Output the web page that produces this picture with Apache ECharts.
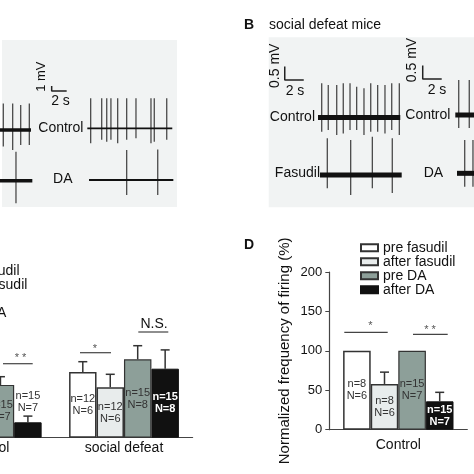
<!DOCTYPE html>
<html>
<head>
<meta charset="utf-8">
<script src="https://cdn.jsdelivr.net/npm/echarts@6/dist/echarts.min.js"></script>
<style>
body{margin:0;background:#fff;}
#fig{width:474px;height:474px;}
</style>
</head>
<body>
<div id="fig"></div>
<script>
// ---- panel C / D bar data ----
var groupNames = ['pre fasudil', 'after fasudil', 'pre DA', 'after DA'];

var cCats = ['Control', 'social defeat'];
var cPreFasudil = [3.4, 3.29];
var cAfterFasudil = [2.6, 2.52];
var cPreDA = [2.64, 3.92];
var cAfterDA = [0.77, 3.45];
var cPreFasudilErr = [0.45, 0.51];
var cAfterFasudilErr = [0.5, 0.65];
var cPreDAErr = [0.41, 0.68];
var cAfterDAErr = [0.31, 0.94];
var cPreFasudilN = ['n=8\nN=6', 'n=12\nN=6'];
var cAfterFasudilN = ['n=8\nN=6', 'n=12\nN=6'];
var cPreDAN = ['n=15\nN=7', 'n=15\nN=8'];
var cAfterDAN = ['n=15\nN=7', 'n=15\nN=8'];

var dCats = ['Control'];
var dPreFasudil = [100];
var dAfterFasudil = [58];
var dPreDA = [100];
var dAfterDA = [36];
var dAfterFasudilErr = [15];
var dAfterDAErr = [11.4];
var dPreFasudilN = ['n=8\nN=6'];
var dAfterFasudilN = ['n=8\nN=6'];
var dPreDAN = ['n=15\nN=7'];
var dAfterDAN = ['n=15\nN=7'];
var dTicks = [0, 50, 100, 150, 200];

// ---- traces (s, mV) ----
// A, left column (only the end is in view)
var alCtrlSpan = [0, 4.13];
var alCtrlSpikes = [0.44, 1.69, 2.76, 3.91];
var alCtrlUp = [5.3, 5.3, 5.0, 5.3];
var alCtrlDown = [-3.3, -4.0, -3.0, -3.0];
var alDASpan = [0, 4.31];
var alDABase = -10.14;
var alDASpikes = [2.13];
var alDAUp = [5.8];
var alDADown = [-4.5];
// A, right column
var arCtrlSpan = [0, 11.33];
var arCtrlSpikes = [0.45, 1.92, 2.59, 3.15, 4.05, 5.25, 6.49, 8.49, 8.93, 10.59];
var arCtrlUp = [6.0, 6.0, 6.0, 6.0, 6.0, 6.0, 6.0, 6.0, 6.0, 6.0];
var arCtrlDown = [-3.0, -2.3, -2.7, -2.3, -3.0, -2.3, -2.0, -3.0, -2.7, -2.3];
var arDASpan = [0.23, 11.47];
var arDABase = -10.34;
var arDASpikes = [5.25, 9.39];
var arDAUp = [6.0, 6.1];
var arDADown = [-3.0, -3.0];
var arScaleT = [-4.75, -2.75];
var arScaleV = [7.46, 8.46];
// B, left column
var blCtrlSpan = [0, 8.66];
var blCtrlSpikes = [0.39, 1.08, 1.97, 2.66, 3.37, 4.07, 4.84, 5.55, 6.28, 7.05, 7.76, 8.56];
var blCtrlUp = [1.27, 1.2, 1.2, 1.27, 1.27, 1.14, 1.08, 1.27, 1.2, 1.2, 1.27, 1.27];
var blCtrlDown = [-0.53, -0.46, -0.65, -0.59, -0.46, -0.46, -0.65, -0.53, -0.53, -0.59, -0.46, -0.65];
var blFasSpan = [0.21, 8.81];
var blFasBase = -2.13;
var blFasSpikes = [0.98, 3.44, 5.72, 7.82];
var blFasUp = [1.36, 1.3, 1.42, 1.36];
var blFasDown = [-0.49, -0.74, -0.49, -0.67];
var blScaleT = [-3.5, -1.5];
var blScaleV = [1.39, 1.89];
// B, right column (cut at the right edge)
var brCtrlSpan = [0, 3];
var brCtrlSpikes = [0.36, 1.47];
var brCtrlUp = [1.3, 1.3];
var brCtrlDown = [-0.48, -0.48];
var brDASpan = [0.18, 3];
var brDABase = -2.16;
var brDASpikes = [0.99, 1.86];
var brDAUp = [1.23, 1.23];
var brDADown = [-0.5, -0.5];
var brScaleT = [-3.43, -1.43];
var brScaleV = [1.33, 1.83];

var fig = echarts.init(document.getElementById('fig'));
var FONT = "'Liberation Sans', Arial, sans-serif";
var barStyles = [
	{color: '#ffffff', borderColor: '#333', borderWidth: 1.5},
	{color: '#e8ecec', borderColor: '#333', borderWidth: 1.5},
	{color: '#8d9f99', borderColor: '#333', borderWidth: 1.2},
	{color: '#111111', borderColor: '#111', borderWidth: 1}
];

function barData(vals, labels, idx){
	return vals.map(function(v, i){
		var lab = {formatter: labels[i]};
		if(idx == 3){
			lab.color = '#fff';
			lab.fontWeight = 'bold';
		}
		return {value: v, label: lab};
	});
}

function errRender(params, api){
	var cat = api.value(0), grp = api.value(1), val = api.value(2), err = api.value(3);
	var bw = api.size([1, 0])[0] * 0.8 / 4;
	var p = api.coord([cat, val]);
	var x = p[0] + (grp - 1.5) * bw;
	var top = api.coord([cat, val + err])[1];
	var st = {stroke: '#333', lineWidth: 1.5};
	return {type: 'group', children: [
		{type: 'line', shape: {x1: x, y1: p[1], x2: x, y2: top}, style: st},
		{type: 'line', shape: {x1: x - 4.5, y1: top, x2: x + 4.5, y2: top}, style: st}
	]};
}

function spikeRender(params, api){
	var a = api.coord([api.value(0), api.value(1)]);
	var b = api.coord([api.value(0), api.value(2)]);
	return {type: 'line', shape: {x1: a[0], y1: a[1], x2: b[0], y2: b[1]},
		style: {stroke: '#4a4a4a', lineWidth: 1.3}};
}

function spikes(times, up, down, base){
	return times.map(function(t, i){ return [t, base + up[i], base + down[i]]; });
}

function bars(gi, cats, series, errs, labelArrs){
	var out = [];
	series.forEach(function(vals, k){
		out.push({
			name: groupNames[k], type: 'bar', xAxisIndex: gi, yAxisIndex: gi,
			barGap: 0, barCategoryGap: '20%',
			itemStyle: barStyles[k],
			label: {show: true, position: 'inside', color: '#333', fontSize: 11,
				lineHeight: 12, fontFamily: FONT},
			data: barData(vals, labelArrs[k], k)
		});
	});
	var ed = [];
	errs.forEach(function(e, k){
		if(!e) return;
		e.forEach(function(v, i){ ed.push([i, k, series[k][i], v]); });
	});
	out.push({type: 'custom', xAxisIndex: gi, yAxisIndex: gi, renderItem: errRender,
		encode: {x: 0, y: 2}, data: ed, z: 1});
	return out;
}

function traceSeries(gi, lines, spikeData, scaleT, scaleV){
	var out = [];
	lines.forEach(function(l){
		out.push({type: 'line', xAxisIndex: gi, yAxisIndex: gi, symbol: 'none',
			lineStyle: {color: '#111', width: l.w}, data: [[l.span[0], l.base], [l.span[1], l.base]]});
	});
	out.push({type: 'custom', xAxisIndex: gi, yAxisIndex: gi, renderItem: spikeRender,
		data: spikeData, clip: true});
	if(scaleT){
		out.push({type: 'line', xAxisIndex: gi, yAxisIndex: gi, symbol: 'none',
			lineStyle: {color: '#222', width: 1.5},
			data: [[scaleT[0], scaleV[1]], [scaleT[0], scaleV[0]], [scaleT[1], scaleV[0]]]});
	}
	return out;
}

var cSeries = bars(0, cCats, [cPreFasudil, cAfterFasudil, cPreDA, cAfterDA],
	[cPreFasudilErr, cAfterFasudilErr, cPreDAErr, cAfterDAErr],
	[cPreFasudilN, cAfterFasudilN, cPreDAN, cAfterDAN]);
// short black control bar: label sits above it
cSeries[3].data[0].label.position = 'top';
cSeries[3].data[0].label.distance = 8;
cSeries[3].data[0].label.color = '#333';
cSeries[3].data[0].label.fontWeight = 'normal';

var dSeries = bars(1, dCats, [dPreFasudil, dAfterFasudil, dPreDA, dAfterDA],
	[null, dAfterFasudilErr, null, dAfterDAErr],
	[dPreFasudilN, dAfterFasudilN, dPreDAN, dAfterDAN]);

var tSeries = [].concat(
	traceSeries(2, [{span: alCtrlSpan, base: 0, w: 3.6}, {span: alDASpan, base: alDABase, w: 3.4}],
		spikes(alCtrlSpikes, alCtrlUp, alCtrlDown, 0).concat(spikes(alDASpikes, alDAUp, alDADown, alDABase))),
	traceSeries(3, [{span: arCtrlSpan, base: 0, w: 1.8}, {span: arDASpan, base: arDABase, w: 1.8}],
		spikes(arCtrlSpikes, arCtrlUp, arCtrlDown, 0).concat(spikes(arDASpikes, arDAUp, arDADown, arDABase)),
		arScaleT, arScaleV),
	traceSeries(4, [{span: blCtrlSpan, base: 0, w: 5}, {span: blFasSpan, base: blFasBase, w: 5}],
		spikes(blCtrlSpikes, blCtrlUp, blCtrlDown, 0).concat(spikes(blFasSpikes, blFasUp, blFasDown, blFasBase)),
		blScaleT, blScaleV),
	traceSeries(5, [{span: brCtrlSpan, base: 0, w: 5}, {span: brDASpan, base: brDABase, w: 5}],
		spikes(brCtrlSpikes, brCtrlUp, brCtrlDown, 0).concat(spikes(brDASpikes, brDAUp, brDADown, brDABase)),
		brScaleT, brScaleV)
);

function hiddenAxis(gi, min, max){
	return {type: 'value', gridIndex: gi, min: min, max: max, show: false};
}

function txt(t, x, y, opt){
	opt = opt || {};
	return {type: 'text', x: x, y: y, rotation: opt.rot || 0, z: 10,
		style: {text: t, fill: opt.fill || '#111', align: opt.align || 'left', verticalAlign: 'middle',
			font: (opt.weight || 'normal') + ' ' + (opt.size || 14) + 'px ' + FONT}};
}
function hline(x1, x2, y){
	return {type: 'line', z: 10, shape: {x1: x1, y1: y, x2: x2, y2: y}, style: {stroke: '#444', lineWidth: 1.2}};
}

var legendBase = {
	orient: 'vertical', itemWidth: 17, itemHeight: 7, itemGap: 0, selectedMode: false,
	icon: 'rect', data: groupNames, padding: 0,
	textStyle: {fontSize: 14, lineHeight: 12.6, color: '#111', fontFamily: FONT}
};

function grid(o){
	o.outerBoundsMode = 'none';
	o.containLabel = false;
	return o;
}

var option = {
	animation: false,
	textStyle: {fontFamily: FONT},
	graphic: [
		{type: 'rect', z: -1, shape: {x: 2, y: 40, width: 175, height: 167}, style: {fill: '#f1f3f3'}},
		{type: 'rect', z: -1, shape: {x: 268.7, y: 37.3, width: 206, height: 170}, style: {fill: '#f1f3f3'}},
		txt('1 mV', 41.7, 76.7, {rot: Math.PI / 2, align: 'center', size: 13}),
		txt('2 s', 60.5, 101, {align: 'center'}),
		txt('Control', 38.3, 128.3),
		txt('DA', 62.8, 179, {align: 'center'}),
		txt('B', 244, 25, {weight: 'bold'}),
		txt('social defeat mice', 269, 25),
		txt('0.5 mV', 275, 65.8, {rot: Math.PI / 2, align: 'center'}),
		txt('2 s', 295, 90.7, {align: 'center'}),
		txt('Control', 315, 116.7, {align: 'right'}),
		txt('Fasudil', 320, 173.3, {align: 'right'}),
		txt('0.5 mV', 412, 60, {rot: Math.PI / 2, align: 'center'}),
		txt('2 s', 437, 90, {align: 'center'}),
		txt('Control', 405.3, 115),
		txt('DA', 423.7, 173.3),
		txt('D', 244, 245.3, {weight: 'bold'}),
		// significance marks
		hline(3, 32.7, 363.7),
		txt('* *', 20.5, 358, {align: 'center', size: 11, fill: '#555'}),
		hline(80, 111, 352.7),
		txt('*', 95, 348.7, {align: 'center', size: 11, fill: '#555'}),
		hline(138.3, 168.3, 332),
		txt('N.S.', 154, 324.3, {align: 'center'}),
		hline(344.3, 387.7, 332.3),
		txt('*', 370.3, 326.3, {align: 'center', size: 11, fill: '#555'}),
		hline(413, 447.7, 334.3),
		txt('* *', 430, 330.3, {align: 'center', size: 11, fill: '#555'})
	],
	legend: [
		Object.assign({}, legendBase, {left: -68, top: 264}),
		Object.assign({}, legendBase, {left: 360, top: 240.7})
	],
	grid: [
		grid({left: -81.9, width: 274.5, top: 277.7, height: 160}),
		grid({left: 329.3, right: 6.7, top: 272, height: 157.7}),
		grid({left: 0, width: 45, top: 100, height: 110}),
		grid({left: 42.3, width: 135, top: 78.3, height: 125}),
		grid({left: 280, width: 128.25, top: 50, height: 162}),
		grid({left: 417.3, width: 57, top: 47.5, height: 162})
	],
	xAxis: [
		{type: 'category', gridIndex: 0, data: cCats,
			axisLine: {lineStyle: {color: '#444', width: 1.2}}, axisTick: {show: false},
			axisLabel: {color: '#111', fontSize: 14, margin: 3}},
		{type: 'category', gridIndex: 1, data: dCats,
			axisLine: {lineStyle: {color: '#444', width: 1.2}}, axisTick: {show: false},
			axisLabel: {color: '#111', fontSize: 14, margin: 8}},
		hiddenAxis(2, 0, 6),
		hiddenAxis(3, -6, 12),
		hiddenAxis(4, -4, 9.5),
		hiddenAxis(5, -4, 2)
	],
	yAxis: [
		{type: 'value', gridIndex: 0, min: 0, max: 8, show: false},
		{type: 'value', gridIndex: 1, min: dTicks[0], max: dTicks[dTicks.length - 1], interval: 50,
			name: 'Normalized frequency of firing (%)', nameLocation: 'middle', nameGap: 37,
			nameTextStyle: {fontSize: 15, color: '#111'},
			splitLine: {show: false},
			axisLine: {show: true, lineStyle: {color: '#444', width: 1.2}},
			axisTick: {show: true, length: 4, lineStyle: {color: '#444'}},
			axisLabel: {color: '#111', fontSize: 13, margin: 7}},
		hiddenAxis(2, -16, 6),
		hiddenAxis(3, -15, 10),
		hiddenAxis(4, -3.5, 2.5),
		hiddenAxis(5, -3.5, 2.5)
	],
	series: cSeries.concat(dSeries, tSeries)
};
fig.setOption(option);
</script>
</body>
</html>
